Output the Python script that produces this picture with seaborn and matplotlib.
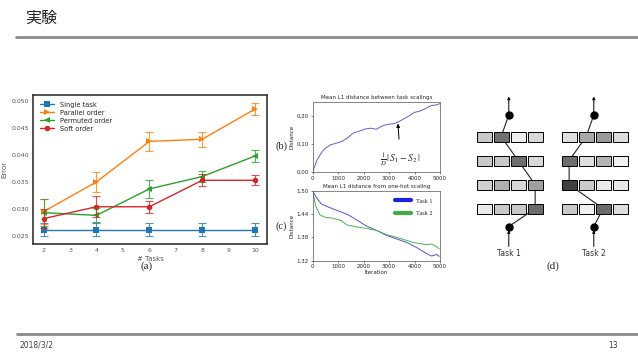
import matplotlib
matplotlib.use("Agg")
import matplotlib.pyplot as plt
from matplotlib.lines import Line2D
from matplotlib.patches import Rectangle
import pandas as pd
import seaborn as sns

sns.set_style("white")
plt.rcParams["font.family"] = ["DejaVu Sans", "Noto Sans CJK JP"]
plt.rcParams["mathtext.fontset"] = "stix"

# (a) error vs number of tasks
tasks = [2, 4, 6, 8, 10]
methods = ["Single task", "Parallel order", "Permuted order", "Soft order"]
single = [0.0261, 0.0261, 0.0261, 0.0261, 0.0261]
single_err = [0.0012, 0.0012, 0.0012, 0.0012, 0.0012]
parallel = [0.0295, 0.0350, 0.0425, 0.0429, 0.0485]
parallel_err = [0.0023, 0.0019, 0.0017, 0.0014, 0.0011]
permuted = [0.0293, 0.0288, 0.0337, 0.0360, 0.0398]
permuted_err = [0.0025, 0.0013, 0.0016, 0.0011, 0.0011]
soft = [0.0282, 0.0304, 0.0304, 0.0353, 0.0353]
soft_err = [0.0017, 0.0019, 0.0011, 0.0011, 0.0009]

# (b) mean L1 distance between task scalings
iters_b = [0, 80, 170, 300, 430, 550, 700, 900, 1150, 1350, 1600, 1850, 2100,
           2300, 2500, 2650, 2800, 3000, 3200, 3400, 3600, 3800, 4000, 4200,
           4400, 4650, 4850, 5000]
dist_b = [0.0, 0.020, 0.042, 0.062, 0.079, 0.088, 0.097, 0.102, 0.109, 0.120,
          0.139, 0.146, 0.154, 0.156, 0.152, 0.160, 0.166, 0.170, 0.172, 0.180,
          0.190, 0.200, 0.212, 0.216, 0.224, 0.236, 0.238, 0.243]

# (c) mean L1 distance from one-hot scaling
iters_c = [0, 160, 350, 550, 810, 1140, 1400, 1730, 2120, 2510, 2900, 3300,
           3690, 4080, 4480, 4670, 4870, 4970]
task1_c = [1.500, 1.482, 1.466, 1.460, 1.453, 1.445, 1.438, 1.425, 1.409,
           1.398, 1.385, 1.376, 1.367, 1.354, 1.338, 1.332, 1.336, 1.331]
iters_c2 = [0, 130, 290, 480, 810, 1140, 1340, 1730, 2120, 2510, 2900, 3300,
            3690, 3950, 4210, 4480, 4670, 4870, 4970]
task2_c = [1.500, 1.460, 1.438, 1.432, 1.429, 1.423, 1.412, 1.407, 1.403,
           1.398, 1.387, 1.380, 1.372, 1.367, 1.364, 1.361, 1.363, 1.356, 1.350]

# (d) soft-ordering diagram: box shades per row (top to bottom), chosen column
shades_task1 = [["#c8c8c8", "#707070", "#eeeeee", "#d8d8d8"],
                ["#c8c8c8", "#c8c8c8", "#6e6e6e", "#d8d8d8"],
                ["#d0d0d0", "#b0b0b0", "#d8d8d8", "#a0a0a0"],
                ["#eaeaea", "#c8c8c8", "#c8c8c8", "#6a6a6a"]]
shades_task2 = [["#e0e0e0", "#a8a8a8", "#9a9a9a", "#dcdcdc"],
                ["#6e6e6e", "#dedede", "#b4b4b4", "#f0f0f0"],
                ["#404040", "#cacaca", "#eaeaea", "#e8e8e8"],
                ["#c8c8c8", "#f0f0f0", "#6a6a6a", "#dcdcdc"]]
path_task1 = [1, 2, 3, 3]
path_task2 = [1, 0, 0, 2]
task_names = ["Task 1", "Task 2"]

W, H = 638, 359


def box(l, t, r, b):
    return [l / W, 1 - b / H, (r - l) / W, (b - t) / H]


fig = plt.figure(figsize=(W / 100, H / 100), dpi=100)

# slide frame
fig.text(25 / W, 1 - 18 / H, "実験", fontsize=11.5, va="center", ha="left",
         family=["Noto Sans CJK JP"])
fig.add_artist(Line2D([16 / W, 1], [1 - 37 / H] * 2, color="#8a8a8a", lw=2))
fig.add_artist(Line2D([17 / W, 1], [1 - 334 / H] * 2, color="#8a8a8a", lw=2))
fig.text(20 / W, 1 - 345 / H, "2018/3/2", fontsize=5.5, color="#404040", va="center")
fig.text(618 / W, 1 - 345 / H, "13", fontsize=5.5, color="#404040", va="center", ha="right")

# (a)
df_a = pd.DataFrame({
    "tasks": tasks * 4,
    "error": single + parallel + permuted + soft,
    "method": [m for m in methods for _ in tasks],
})
colors = ["#1f77b4", "#ff7f0e", "#2ca02c", "#d62728"]
markers = ["s", ">", "<", "o"]
ax = fig.add_axes(box(33, 95, 267, 244))
sns.lineplot(data=df_a, x="tasks", y="error", hue="method", style="method",
             palette=colors, markers=markers, dashes=False, markersize=4,
             markeredgewidth=0, linewidth=1, ax=ax)
for vals, errs, c in zip([single, parallel, permuted, soft],
                         [single_err, parallel_err, permuted_err, soft_err], colors):
    ax.errorbar(tasks, vals, yerr=errs, fmt="none", ecolor=c, elinewidth=0.8,
                capsize=3, capthick=0.8, alpha=0.8)
ax.set_xlim(1.6, 10.45)
ax.set_ylim(0.0235, 0.0511)
ax.set_xticks(range(2, 11))
ax.set_yticks([0.025, 0.030, 0.035, 0.040, 0.045, 0.050])
ax.set_yticklabels(["0.025", "0.030", "0.035", "0.040", "0.045", "0.050"])
ax.tick_params(labelsize=4.5, labelcolor="#555555", length=0, pad=3)
ax.set_xlabel("# Tasks", fontsize=5, color="#555555", labelpad=2)
ax.set_ylabel("Error", fontsize=5, color="#555555", labelpad=3)
for s in ax.spines.values():
    s.set_color("#333333")
    s.set_linewidth(1.2)
ax.legend(loc="upper left", frameon=False, fontsize=4.8, handlelength=2.2,
          labelspacing=0.3, borderaxespad=0.6)
fig.text(147 / W, 1 - 266 / H, "(a)", fontsize=8, family="Liberation Serif",
         ha="center", va="center")

# (b)
axb = fig.add_axes(box(312.5, 101.6, 440, 172.3))
sns.lineplot(x=iters_b, y=dist_b, color="#6a5acd", linewidth=0.7, ax=axb)
axb.set_xlim(0, 5000)
axb.set_ylim(0, 0.25)
axb.set_xticks([0, 1000, 2000, 3000, 4000, 5000])
axb.set_yticks([0.0, 0.10, 0.20])
axb.set_yticklabels(["0.00", "0.10", "0.20"])
axb.set_title("Mean L1 distance between task scalings", fontsize=4, pad=2)
axb.set_ylabel("Distance", fontsize=4, labelpad=2)
axb.annotate(r"$\frac{1}{D}|\,S_1 - S_2\,|$", xy=(3350, 0.172), xytext=(3450, 0.045),
             fontsize=7, ha="center", va="center",
             arrowprops=dict(arrowstyle="-|>", color="black", lw=0.7, mutation_scale=5,
                             shrinkA=6, shrinkB=0))
fig.text(281 / W, 1 - 146 / H, "(b)", fontsize=7.5, family="Liberation Serif",
         ha="center", va="center")

# (c)
axc = fig.add_axes(box(312.5, 190.7, 440, 260.7))
sns.lineplot(x=iters_c, y=task1_c, color="#5a50d0", linewidth=0.7, ax=axc)
sns.lineplot(x=iters_c2, y=task2_c, color="#4caf50", linewidth=0.7, ax=axc)
axc.set_xlim(0, 5000)
axc.set_ylim(1.32, 1.50)
axc.set_xticks([0, 1000, 2000, 3000, 4000, 5000])
axc.set_yticks([1.32, 1.38, 1.44, 1.50])
axc.set_title("Mean L1 distance from one-hot scaling", fontsize=4, pad=2)
axc.set_ylabel("Distance", fontsize=4, labelpad=2)
axc.set_xlabel("Iteration", fontsize=4, labelpad=0.5)
handles = [Line2D([], [], color="#2020e0", lw=3), Line2D([], [], color="#44aa44", lw=3)]
axc.legend(handles, task_names, loc="upper right", frameon=False,
           prop={"family": "Liberation Serif", "size": 4.5}, handlelength=2.5,
           labelspacing=1.2, borderaxespad=0.8)
fig.text(281 / W, 1 - 226 / H, "(c)", fontsize=7.5, family="Liberation Serif",
         ha="center", va="center")

for a in (axb, axc):
    a.tick_params(labelsize=4, length=1.5, width=0.4, pad=1, direction="out",
                  bottom=True, left=True)
    for s in a.spines.values():
        s.set_color("#555555")
        s.set_linewidth(0.5)

# (d)
axd = fig.add_axes(box(460, 85, 638, 275))
axd.set_xlim(-1.42, 9.05)
axd.set_ylim(5.77, -2.15)
axd.axis("off")
for g, (shades, path, name) in enumerate(zip([shades_task1, shades_task2],
                                             [path_task1, path_task2], task_names)):
    off = 5 * g
    cx = off + 1.45
    for r, row in enumerate(shades):
        for c, shade in enumerate(row):
            axd.add_patch(Rectangle((off + c - 0.44, r - 0.21), 0.88, 0.42,
                                    facecolor=shade, edgecolor="black", lw=0.7, zorder=2))
    px = [cx] + [off + c for c in path] + [cx]
    py = [-0.9] + list(range(len(path))) + [3.75]
    axd.plot(px, py, color="#222222", lw=0.8, zorder=1)
    axd.plot([cx, cx], [-0.9, 3.75], ls="none", marker="o", color="black",
             markersize=5, zorder=3)
    for y0, y1 in [(-0.9, -1.67), (4.58, 3.9)]:
        axd.annotate("", xy=(cx, y1), xytext=(cx, y0),
                     arrowprops=dict(arrowstyle="-|>", color="black", lw=0.7,
                                     mutation_scale=4, shrinkA=0, shrinkB=0))
    axd.text(cx, 4.87, name, fontsize=5.5, color="#333333", ha="center", va="center")
fig.text(553 / W, 1 - 266 / H, "(d)", fontsize=8, family="Liberation Serif",
         ha="center", va="center")

fig.savefig("out.png", dpi=100)
